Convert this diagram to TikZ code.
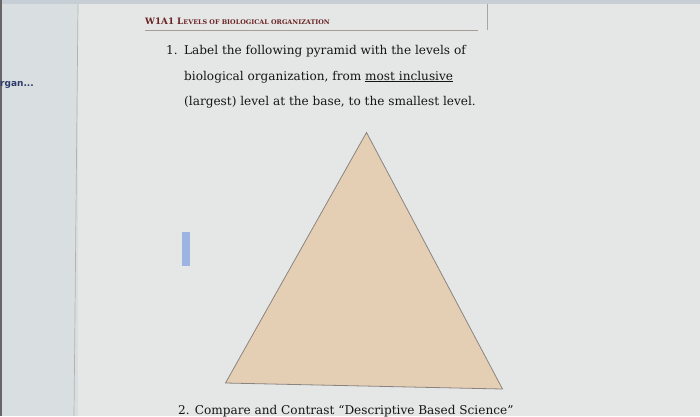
\documentclass[tikz,border=0pt]{standalone}
\usepackage{fontspec}
\setmainfont{DejaVu Serif}
\setsansfont{DejaVu Sans}
\definecolor{pagebg}{HTML}{E5E7E7}
\definecolor{sidebg}{HTML}{D9DFE0}
\definecolor{topband}{HTML}{C8CED6}
\definecolor{maroon}{HTML}{6B2222}
\definecolor{bodytxt}{HTML}{151515}
\definecolor{tan}{HTML}{E5CFB4}
\definecolor{triedge}{HTML}{8A8480}
\definecolor{cursorblue}{HTML}{9DB3E2}
\definecolor{linkblue}{HTML}{2C3A6A}
\definecolor{rulecol}{HTML}{A89C9A}
\tikzset{
  body/.style={anchor=base west, inner sep=0pt, text=bodytxt, font=\fontsize{12.1}{14}\selectfont},
  hdr/.style={anchor=base west, inner sep=0pt, text=maroon},
}
\begin{document}
\begin{tikzpicture}[x=1pt,y=-1pt]
\useasboundingbox (0,0) rectangle (700,416);
\fill[pagebg] (0,0) rectangle (700,416);
\fill[sidebg] (0,0) rectangle (78,416);
\fill[topband] (0,0) rectangle (700,4);
\fill[black!60] (0,0) rectangle (1.5,416);
\draw[black!30, line width=0.7pt] (78,4) -- (74,416);
% left panel text
\node[anchor=base west, inner sep=0pt, text=linkblue, font=\sffamily\bfseries\fontsize{9}{10}\selectfont] (side) at (0,86) {rgan...};
% header
\node[hdr] (head) at (145,24) {\fontsize{8.8}{10}\selectfont\bfseries W1A1 L{\fontsize{6.4}{7}\selectfont EVELS OF BIOLOGICAL ORGANIZATION}};
\draw[rulecol, line width=0.6pt] (145,30) -- (478,30);
\draw[black!35, line width=1pt] (487,4) -- (487,30);
% question
\node[body] (num) at (166,54) {1.};
\node[body] (l1) at (184,54) {Label the following pyramid with the levels of};
\node[body] (l2) at (184,80) {biological organization, from \underline{most inclusive}};
\node[body] (l3) at (184,105) {(largest) level at the base, to the smallest level.};
% pyramid
\filldraw[fill=tan, draw=triedge, line width=0.8pt] (366.5,132.5) -- (502.5,389) -- (225.5,383) -- cycle;
% text cursor
\fill[cursorblue] (182,232) rectangle (190,266);
% cut-off next question
\begin{scope}
\clip (0,0) rectangle (700,416);
\node[body] (q2) at (178,414) {2. Compare and Contrast “Descriptive Based Science”};
\end{scope}
\end{tikzpicture}
\end{document}
